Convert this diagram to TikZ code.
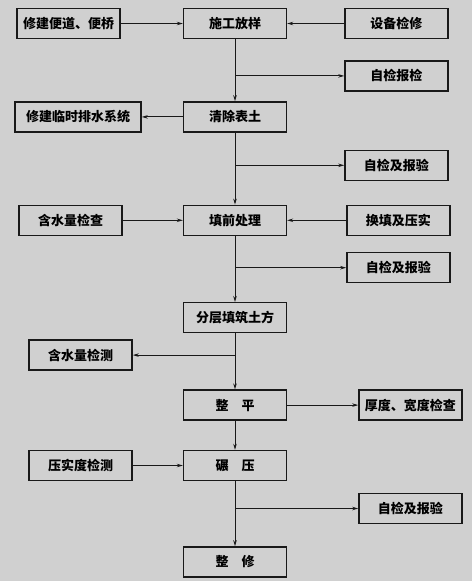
\documentclass[tikz,border=0pt]{standalone}
\usepackage{fontspec}
\setmainfont{Noto Sans CJK SC}
\usepackage{tikz}
\usetikzlibrary{arrows.meta, positioning}
\definecolor{scangray}{RGB}{208, 208, 208}
\definecolor{inkblack}{RGB}{25, 25, 25}

\begin{document}
\begin{tikzpicture}[x=1pt, y=1pt,
    stage/.style={rectangle, draw=inkblack, line width=1.4pt,
                  minimum width=103pt, minimum height=30pt, inner xsep=5pt,
                  inner ysep=0pt, align=center,
                  font=\bfseries\fontsize{13pt}{15pt}\selectfont},
    arr/.style={-{Stealth[length=6pt, width=3.5pt]}, line width=0.9pt, inkblack},
]
\fill[scangray] (0,0) rectangle (472,-581);
\useasboundingbox (0,0) rectangle (472,-581);

% main column
\node[stage] (fangyang) at (235,-23.5) {施工放样};
\node[stage, below=62pt of fangyang] (qingchu) {清除表土};
\node[stage, below=72pt of qingchu] (tianqian) {填前处理};
\node[stage, below=66pt of tianqian] (fenceng) {分层填筑土方};
\node[stage, below=56pt of fenceng] (zhengping) {整　平};
\node[stage, below=29pt of zhengping] (nianya) {碾　压};
\node[stage, below=65pt of nianya] (zhengxiu) {整　修};

% left column
\node[stage, left=62pt of fangyang] (biandao) {修建便道、便桥};
\node[stage, left=41pt of qingchu, minimum width=126pt] (paishui) {修建临时排水系统};
\node[stage, left=60pt of tianqian] (hanshuicha) {含水量检查};
\node[stage, left=50pt of nianya] (yashidu) {压实度检测};
\node[stage, above=79pt of yashidu] (hanshuice) {含水量检测};

% right column
\node[stage, right=57pt of fangyang] (shebei) {设备检修};
\node[stage, below=21pt of shebei] (zijianA) {自检报检};
\node[stage, below=58pt of zijianA] (zijianB) {自检及报验};
\node[stage, right=59pt of tianqian] (huantian) {换填及压实};
\node[stage, below=16pt of huantian] (zijianC) {自检及报验};
\node[stage, right=71pt of zhengping] (houdu) {厚度、宽度检查};
\node[stage, below=72pt of houdu] (zijianD) {自检及报验};

% branch points on the main line
\coordinate (jA) at (fangyang.south |- zijianA.west);
\coordinate (jB) at (qingchu.south |- zijianB.west);
\coordinate (jC) at (tianqian.south |- zijianC.west);
\coordinate (jD) at (fenceng.south |- hanshuice.east);
\coordinate (jE) at (nianya.south |- zijianD.west);

\draw[arr] (biandao) -- (fangyang);
\draw[arr] (shebei) -- (fangyang);
\draw[arr] (fangyang) -- (qingchu);
\draw[arr] (jA) -- (zijianA);
\draw[arr] (qingchu) -- (paishui);
\draw[arr] (qingchu) -- (tianqian);
\draw[arr] (jB) -- (zijianB);
\draw[arr] (hanshuicha) -- (tianqian);
\draw[arr] (huantian) -- (tianqian);
\draw[arr] (tianqian) -- (fenceng);
\draw[arr] (jC) -- (zijianC);
\draw[arr] (fenceng) -- (zhengping);
\draw[arr] (jD) -- (hanshuice);
\draw[arr] (zhengping) -- (houdu);
\draw[arr] (zhengping) -- (nianya);
\draw[arr] (yashidu) -- (nianya);
\draw[arr] (nianya) -- (zhengxiu);
\draw[arr] (jE) -- (zijianD);

\end{tikzpicture}
\end{document}
